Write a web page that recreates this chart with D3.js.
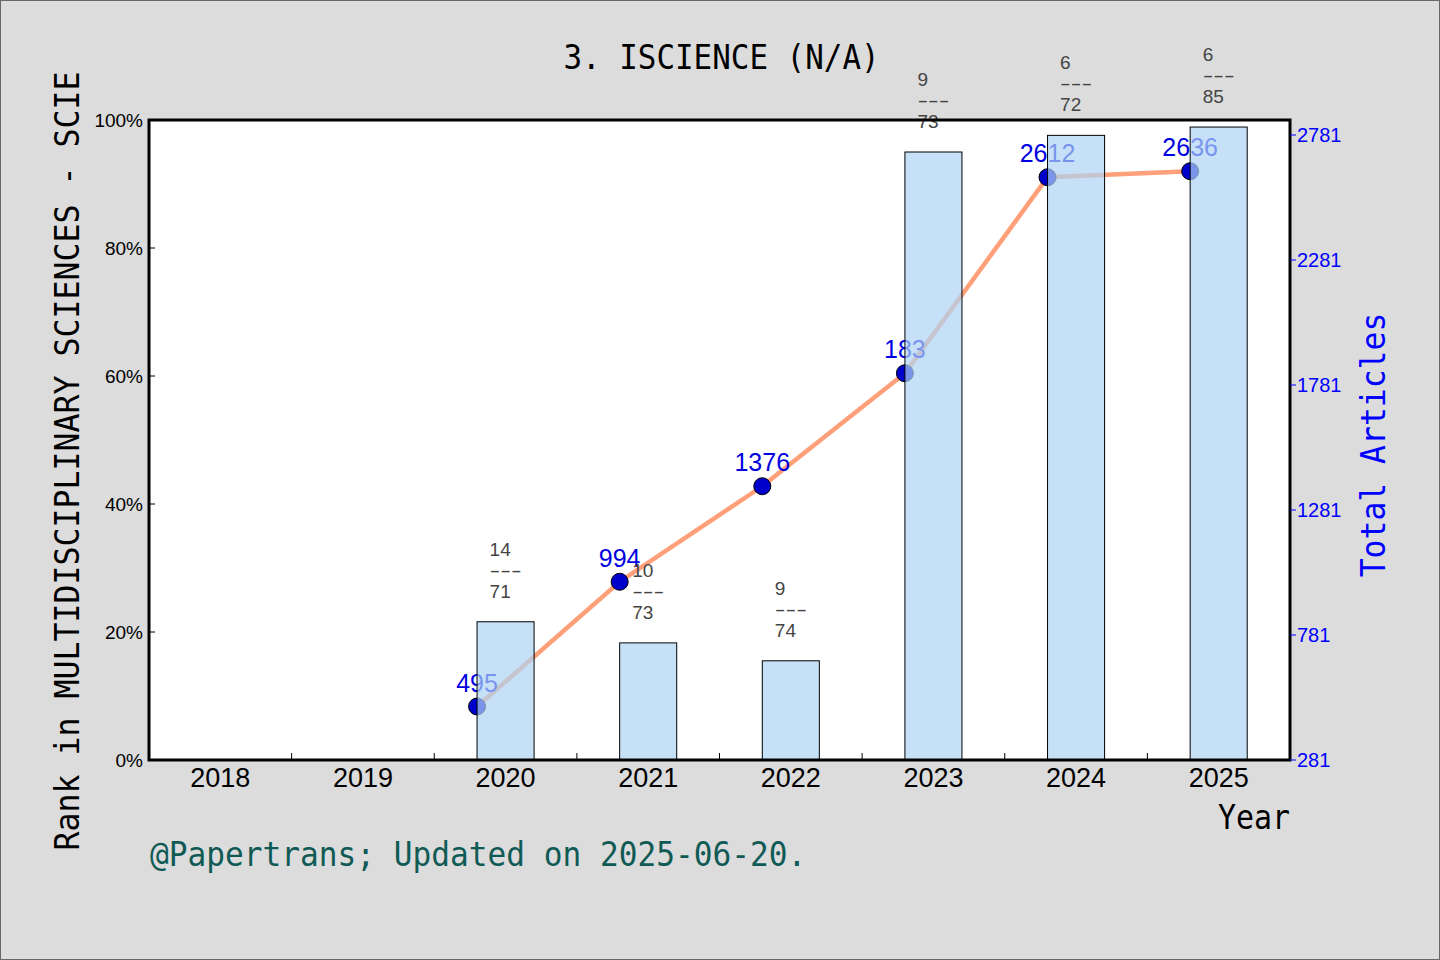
<!DOCTYPE html>
<html>
<head>
<meta charset="utf-8">
<script src="https://cdn.jsdelivr.net/npm/d3@7"></script>
<style>
  html, body { margin: 0; padding: 0; background: #dcdcdc; }
  svg { display: block; }
</style>
</head>
<body>
<script>
const width = 1440;
const height = 960;

// categories
const years = ["2018", "2019", "2020", "2021", "2022", "2023", "2024", "2025"];
// bars: rank percentage (left axis), only years with data
const barYears = ["2020", "2021", "2022", "2023", "2024", "2025"];
const barValues = [21.6, 18.3, 15.5, 95.0, 97.6, 98.9];
const rankNum = ["14", "10", "9", "9", "6", "6"];
const rankDen = ["71", "73", "74", "73", "72", "85"];
// line: total articles (right axis)
const articleValues = [495, 994, 1376, 1828, 2612, 2636];
const articleLabels = ["495", "994", "1376", "183", "2612", "2636"];
const pctTicks = [0, 20, 40, 60, 80, 100];
const articleTicks = [281, 781, 1281, 1781, 2281, 2781];

const pLeft = 149, pRight = 1290, pTop = 120, pBottom = 760;
const mono = "'DejaVu Sans Mono', monospace";
const sans = "'Liberation Sans', Arial, sans-serif";

const svg = d3.select(document.body).append("svg")
    .attr("width", width)
    .attr("height", height);

svg.append("rect")
    .attr("x", 0.5).attr("y", 0.5)
    .attr("width", width - 1).attr("height", height - 1)
    .attr("fill", "#dcdcdc")
    .attr("stroke", "#666");

svg.append("rect")
    .attr("x", pLeft).attr("y", pTop)
    .attr("width", pRight - pLeft).attr("height", pBottom - pTop)
    .attr("fill", "#fff");

const x = d3.scaleBand().domain(years).range([pLeft, pRight]).padding(0);
const step = x.step();
const barW = step * 0.4;
const y = d3.scaleLinear().domain([0, 100]).range([pBottom, pTop]);
const y2 = d3.scaleLinear().domain([281, 2841]).range([pBottom, pTop]);

const cx = d => x(d) + step / 2;

const lineData = barYears.map((yr, i) => ({ yr, v: articleValues[i], label: articleLabels[i] }));
const barData = barYears.map((yr, i) => ({ yr, v: barValues[i], num: rankNum[i], den: rankDen[i] }));

// line
const line = d3.line()
    .x(d => cx(d.yr) - barW / 2)
    .y(d => y2(d.v));

svg.append("path")
    .datum(lineData)
    .attr("d", line)
    .attr("fill", "none")
    .attr("stroke", "#ffa07a")
    .attr("stroke-width", 4.5);

svg.append("g").selectAll("circle")
    .data(lineData)
    .join("circle")
    .attr("cx", d => cx(d.yr) - barW / 2)
    .attr("cy", d => y2(d.v))
    .attr("r", 8.5)
    .attr("fill", "#0000cd")
    .attr("stroke", "#000")
    .attr("stroke-width", 1);

svg.append("g").selectAll("text")
    .data(lineData)
    .join("text")
    .attr("x", d => cx(d.yr) - barW / 2)
    .attr("y", d => y2(d.v) - 15)
    .attr("text-anchor", "middle")
    .attr("font-family", sans)
    .attr("font-size", 25)
    .attr("fill", "#0000e0")
    .text(d => d.label);

// bars on top, semi transparent
svg.append("g").selectAll("rect")
    .data(barData)
    .join("rect")
    .attr("x", d => cx(d.yr) - barW / 2)
    .attr("y", d => y(d.v))
    .attr("width", barW)
    .attr("height", d => pBottom - y(d.v))
    .attr("fill", "rgba(172,211,243,0.7)")
    .attr("stroke", "#000")
    .attr("stroke-width", 1);

// rank labels
const rl = svg.append("g").selectAll("g")
    .data(barData)
    .join("g")
    .attr("transform", d => `translate(${cx(d.yr) - 16},${y(d.v) - 24})`)
    .attr("font-family", sans)
    .attr("font-size", 19)
    .attr("fill", "#444");

rl.append("text").attr("y", -42).text(d => d.num);
rl.append("text").attr("y", -21).attr("textLength", 32).attr("lengthAdjust", "spacingAndGlyphs").text("---");
rl.append("text").attr("y", 0).text(d => d.den);

// frame
svg.append("rect")
    .attr("x", pLeft).attr("y", pTop)
    .attr("width", pRight - pLeft).attr("height", pBottom - pTop)
    .attr("fill", "none")
    .attr("stroke", "#000")
    .attr("stroke-width", 3);

// left axis
const gl = svg.append("g");
gl.selectAll("line")
    .data(pctTicks)
    .join("line")
    .attr("x1", pLeft).attr("x2", pLeft + 6)
    .attr("y1", d => y(d)).attr("y2", d => y(d))
    .attr("stroke", "#000");
gl.selectAll("text")
    .data(pctTicks)
    .join("text")
    .attr("x", pLeft - 6)
    .attr("y", d => y(d) + 7)
    .attr("text-anchor", "end")
    .attr("font-family", sans)
    .attr("font-size", 19)
    .attr("fill", "#000")
    .text(d => d + "%");

// right axis
const gr = svg.append("g");
gr.selectAll("line")
    .data(articleTicks)
    .join("line")
    .attr("x1", pRight).attr("x2", pRight + 6)
    .attr("y1", d => y2(d)).attr("y2", d => y2(d))
    .attr("stroke", "#0000ff");
gr.selectAll("text")
    .data(articleTicks)
    .join("text")
    .attr("x", pRight + 7)
    .attr("y", d => y2(d) + 7)
    .attr("font-family", sans)
    .attr("font-size", 20)
    .attr("fill", "#0000ff")
    .text(d => d);

// bottom axis: minor ticks between categories, labels at centers
svg.append("g").selectAll("line")
    .data(years.slice(1))
    .join("line")
    .attr("x1", d => x(d)).attr("x2", d => x(d))
    .attr("y1", pBottom).attr("y2", pBottom - 7)
    .attr("stroke", "#000");
svg.append("g").selectAll("text")
    .data(years)
    .join("text")
    .attr("x", d => cx(d))
    .attr("y", pBottom + 27)
    .attr("text-anchor", "middle")
    .attr("font-family", sans)
    .attr("font-size", 27)
    .attr("fill", "#000")
    .text(d => d);

// titles
function monoText(txt, px) {
    return t => t.attr("font-family", mono)
        .attr("font-size", 34)
        .attr("textLength", txt.length * px)
        .attr("lengthAdjust", "spacingAndGlyphs")
        .text(txt);
}

svg.append("text")
    .attr("x", (pLeft + pRight) / 2 + 2)
    .attr("y", 69)
    .attr("text-anchor", "middle")
    .attr("fill", "#000")
    .call(monoText("3. ISCIENCE (N/A)", 18.6));

svg.append("text")
    .attr("transform", "translate(79,461) rotate(-90)")
    .attr("text-anchor", "middle")
    .attr("fill", "#000")
    .call(monoText("Rank in MULTIDISCIPLINARY SCIENCES - SCIE", 19));

svg.append("text")
    .attr("transform", "translate(1385,445) rotate(-90)")
    .attr("text-anchor", "middle")
    .attr("fill", "#0000ff")
    .call(monoText("Total Articles", 18.9));

svg.append("text")
    .attr("x", pRight)
    .attr("y", 829)
    .attr("text-anchor", "end")
    .attr("fill", "#000")
    .call(monoText("Year", 18));

svg.append("text")
    .attr("x", 150)
    .attr("y", 866)
    .attr("fill", "#105a55")
    .call(monoText("@Papertrans; Updated on 2025-06-20.", 18.75));
</script>
</body>
</html>
